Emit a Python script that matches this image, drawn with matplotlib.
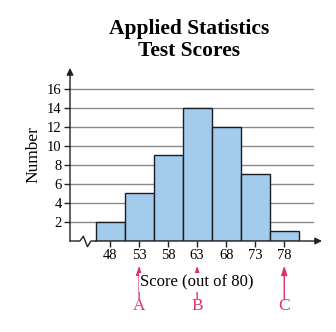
import matplotlib
matplotlib.use("Agg")
import matplotlib.pyplot as plt

# histogram data
scores = [48, 53, 58, 63, 68, 73, 78]
counts = [2, 5, 9, 14, 12, 7, 1]
y_ticks = [2, 4, 6, 8, 10, 12, 14, 16]
marked = {"A": 53, "B": 63, "C": 78}

SERIF = "Liberation Serif"
PINK = "#e0306f"

fig = plt.figure(figsize=(3.36, 3.32), dpi=100)
ax = fig.add_axes([70 / 336, 91 / 332, 252 / 336, 173 / 332])
ax.set_xlim(41.1, 84.5)
ax.set_ylim(0, 18.2)
for s in ax.spines.values():
    s.set_visible(False)

# horizontal grid lines
for y in y_ticks:
    ax.plot([41.1, 83.0], [y, y], color="#8a8a8a", lw=1.0, zorder=1)

ax.bar(scores, counts, width=5, color="#a3cbeb", edgecolor="#1c1c24",
       linewidth=1.0, zorder=2)

# y axis with arrow
ax.annotate("", xy=(41.1, 18.2), xytext=(41.1, 0),
            arrowprops=dict(arrowstyle="-|>", color="#222", lw=1.0,
                            mutation_scale=10, shrinkA=0, shrinkB=0),
            annotation_clip=False, zorder=3)
# x axis with break and arrow
ax.plot([41.1, 42.8, 43.4, 44.1, 44.7, 45.6],
        [0, 0, 0.5, -0.6, 0, 0], color="#222", lw=1.0, clip_on=False, zorder=3)
ax.annotate("", xy=(84.5, 0), xytext=(45.5, 0),
            arrowprops=dict(arrowstyle="-|>", color="#222", lw=1.0,
                            mutation_scale=10, shrinkA=0, shrinkB=0),
            annotation_clip=False, zorder=3)

ax.set_xticks(scores)
ax.set_xticklabels([str(s) for s in scores], family=SERIF, fontsize=10.5)
ax.set_yticks(y_ticks)
ax.set_yticklabels([str(y) for y in y_ticks], family=SERIF, fontsize=10.5)
ax.tick_params(axis="both", length=4, width=1.0, color="#222", pad=2)

ax.set_ylabel("Number", family=SERIF, fontsize=12.5, labelpad=4)

ax.text(63, -4.4, "Score (out of 80)", family=SERIF, fontsize=12,
        ha="center", va="center", zorder=5,
        bbox=dict(facecolor="white", edgecolor="none", pad=1))

for letter, x in marked.items():
    ax.annotate("", xy=(x, -2.6), xytext=(x, -6.1),
                arrowprops=dict(arrowstyle="-|>,head_length=0.6,head_width=0.2",
                                color=PINK, lw=1.0,
                                mutation_scale=9, shrinkA=0, shrinkB=0),
                annotation_clip=False, zorder=4)
    ax.text(x, -6.8, letter, family=SERIF, fontsize=12.5, color=PINK,
            ha="center", va="center")

fig.text(189 / 336, 1 - 40 / 332, "Applied Statistics\nTest Scores",
         family=SERIF, fontweight="bold", fontsize=15.5, ha="center",
         va="center", linespacing=1.12)

fig.savefig("out.png", dpi=100)
